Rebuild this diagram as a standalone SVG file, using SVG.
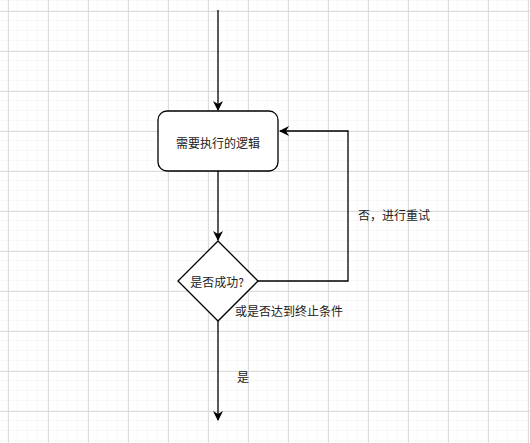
<svg xmlns="http://www.w3.org/2000/svg" width="530" height="443" viewBox="0 0 530 443">
<defs>
<pattern id="minor" x="8" y="11" width="10" height="10" patternUnits="userSpaceOnUse">
<path d="M10 0V10M0 10H10" fill="none" stroke="#f0f0f0" stroke-width="1"/>
</pattern>
<pattern id="major" x="8" y="11" width="40" height="40" patternUnits="userSpaceOnUse">
<path d="M0.5 0V40M0 0.5H40" fill="none" stroke="#dcdcdc" stroke-width="1"/>
</pattern>
<marker id="arr" viewBox="0 0 10 10" refX="9" refY="5" markerWidth="10" markerHeight="10" markerUnits="userSpaceOnUse" orient="auto">
<path d="M0 0L10 5L0 10L3 5Z" fill="#000"/>
</marker>
</defs>
<style>
.shape{fill:#fff;stroke:#000;stroke-width:1.3}
.edge{fill:none;stroke:#000;stroke-width:1.3}
text{font-family:"Noto Sans CJK SC","Liberation Sans",sans-serif;font-size:12px;fill:#222}
.c{text-anchor:middle;dominant-baseline:central}
</style>
<rect width="530" height="443" fill="#fff"/>
<rect width="530" height="443" fill="url(#minor)"/>
<rect width="530" height="443" fill="url(#major)"/>
<g id="connectors">
<path class="edge" d="M218 10V110" marker-end="url(#arr)"/>
<path class="edge" d="M218 171V240" marker-end="url(#arr)"/>
<path class="edge" d="M258 281H348V131H280" marker-end="url(#arr)"/>
<path class="edge" d="M218 321V420" marker-end="url(#arr)"/>
<text class="c" x="394" y="214">否，进行重试</text>
<text x="235" y="316">或是否达到终止条件</text>
<text class="c" x="243" y="376">是</text>
</g>
<g id="logic">
<rect class="shape" x="158" y="111" width="120" height="60" rx="9"/>
<text class="c" x="218" y="142">需要执行的逻辑</text>
</g>
<g id="decision">
<path class="shape" d="M218 241L258 281L218 321L178 281Z"/>
<text class="c" x="217" y="281">是否成功?</text>
</g>
</svg>
